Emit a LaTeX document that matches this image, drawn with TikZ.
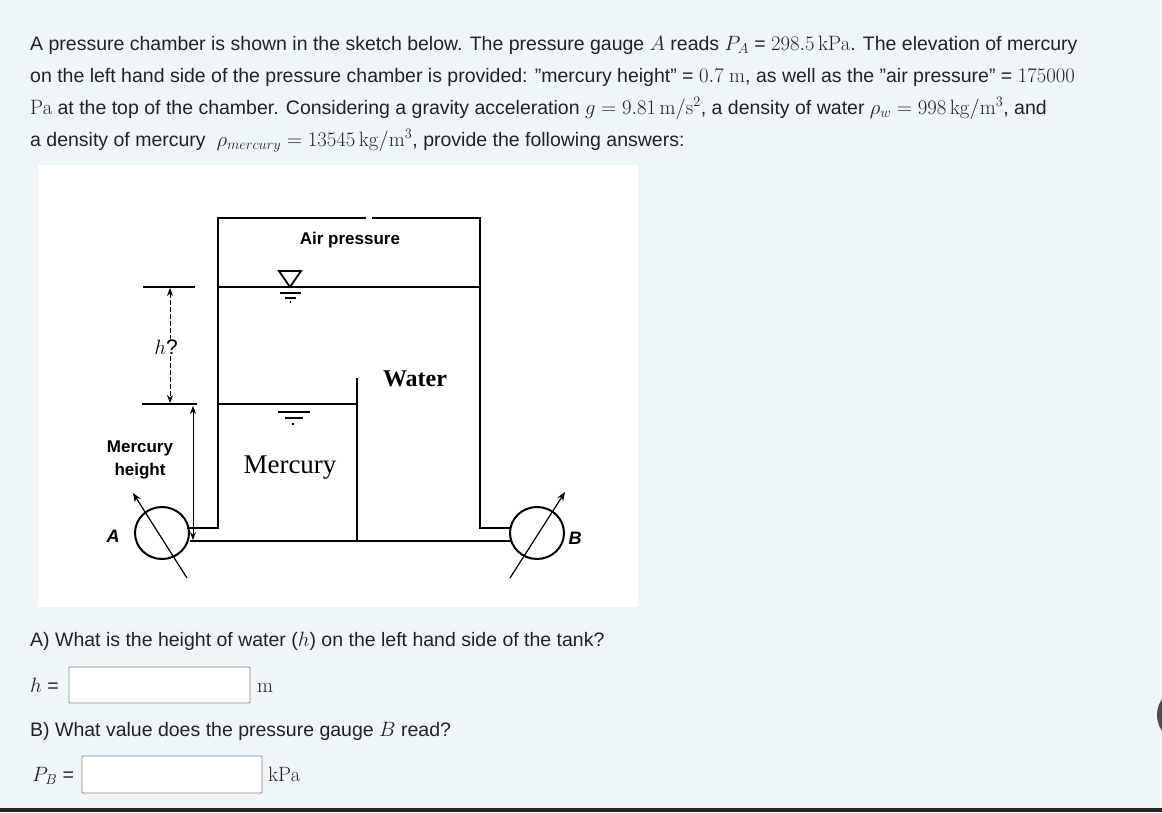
\documentclass[tikz,border=0pt]{standalone}
\usepackage[no-math]{fontspec}
\setmainfont{Liberation Sans}
\newfontfamily\serifw{Liberation Serif}
\usetikzlibrary{arrows.meta}
\definecolor{pagebg}{HTML}{EEF6FA}
\definecolor{ink}{HTML}{222222}
\tikzset{
  txt/.style={anchor=base west,inner sep=0pt,text=ink,font=\fontsize{19.5}{22}\selectfont},
  wall/.style={line width=2.2pt,black},
  dia/.style={inner sep=0pt,font=\fontsize{17}{20}\selectfont\bfseries},
  ansbox/.style={draw=black!45,fill=white,line width=0.8pt,rounded corners=1pt},
  dim/.style={line width=1pt,{Stealth[length=8pt,width=6pt]}-{Stealth[length=8pt,width=6pt]}},
}
\begin{document}
\begin{tikzpicture}[x=1pt,y=-1pt]
\useasboundingbox (0,0) rectangle (1162,812);
\fill[pagebg] (0,0) rectangle (1162,812);
\fill[black!85] (0,808) rectangle (1162,812);
\fill[black!70] (1185,715) circle (28);
% paragraph
\node[txt] (l1) at (30,50) {A pressure chamber is shown in the sketch below. The pressure gauge $A$ reads $P_A$ = $298.5\,\mathrm{kPa}$. The elevation of mercury};
\node[txt] (l2) at (30,82) {on the left hand side of the pressure chamber is provided: "mercury height" = $0.7\ \mathrm{m}$, as well as the "air pressure" = $175000$};
\node[txt] (l3) at (30,114) {$\mathrm{Pa}$ at the top of the chamber. Considering a gravity acceleration $g=9.81\,\mathrm{m/s^2}$, a density of water $\rho_w=998\,\mathrm{kg/m^3}$, and};
\node[txt] (l4) at (30,146) {a density of mercury \ $\rho_{mercury}=13545\,\mathrm{kg/m^3}$, provide the following answers:};
% figure box
\fill[white] (38,165) rectangle (638,607);
% tank
\draw[wall] (366,218) -- (218,218) -- (218,528) -- (187,528);
\draw[wall] (372,218) -- (480,218) -- (480,528) -- (511,528);
\draw[wall] (190,541) -- (511,541);
\draw[wall] (218,287) -- (480,287);
\draw[wall] (218,404) -- (357,404);
\draw[wall] (357,378) -- (357,541);
% free surface symbols
\draw[line width=1.8pt] (290,287) -- (279,271) -- (301,271) -- cycle;
\draw[line width=1.2pt] (280,293) -- (301,293) (285,298) -- (296,298) (290,302) -- (291,302);
\draw[line width=1.2pt] (278,412) -- (310,412) (285,418) -- (303,418) (292,424) -- (294,424);
% gauges
\draw[line width=2pt] (162,533) ellipse (27 and 26);
\draw[line width=2pt] (537,533) ellipse (27 and 26);
\coordinate (a1) at (187,578); \coordinate (a2) at (133,493);
\coordinate (b1) at (510,578); \coordinate (b2) at (565,492);
\draw[line width=1.2pt,-{Stealth[length=9pt,width=7pt]}] (a1) -- (a2);
\draw[line width=1.2pt,-{Stealth[length=9pt,width=7pt]}] (b1) -- (b2);
\node[inner sep=0pt,font=\fontsize{18}{20}\selectfont\bfseries\itshape] (A) at (113,536) {A};
\node[inner sep=0pt,font=\fontsize{18}{20}\selectfont\bfseries\itshape] (B) at (575,538) {B};
% h dimension
\draw[line width=1.3pt] (143,287) -- (195,287) (142,404) -- (197,404);
\coordinate (h1) at (170,288); \coordinate (h2) at (170,403);
\draw[dim,dash pattern=on 5pt off 2pt] (h1) -- (h2);
\node[fill=white,inner sep=1pt,font=\fontsize{21}{22}\selectfont] (hq) at (166,347) {$h$?};
\coordinate (m1) at (193,406); \coordinate (m2) at (193,540);
\draw[dim] (m1) -- (m2);
% labels
\node[dia,align=center,font=\fontsize{17}{23}\selectfont\bfseries] (mh) at (140,460) {Mercury\\height};
\node[dia] (air) at (350,240) {Air pressure};
\node[inner sep=0pt,font=\fontsize{24}{24}\selectfont\bfseries\serifw] (w) at (415,379) {Water};
\node[inner sep=0pt,font=\fontsize{27}{27}\selectfont\serifw] (m) at (290,468) {Mercury};
% questions
\node[txt] (qa) at (30,646) {A) What is the height of water ($h$) on the left hand side of the tank?};
\node[txt] (hl) at (30,692) {$h$ =};
\draw[ansbox] (69,667) rectangle (250,703);
\node[txt] (mu) at (257,692) {$\mathrm{m}$};
\node[txt] (qb) at (30,736) {B) What value does the pressure gauge $B$ read?};
\node[txt] (pl) at (32,781) {$P_B$ =};
\draw[ansbox] (82,756) rectangle (262,793);
\node[txt] (ku) at (268,781) {$\mathrm{kPa}$};
\end{tikzpicture}
\end{document}
